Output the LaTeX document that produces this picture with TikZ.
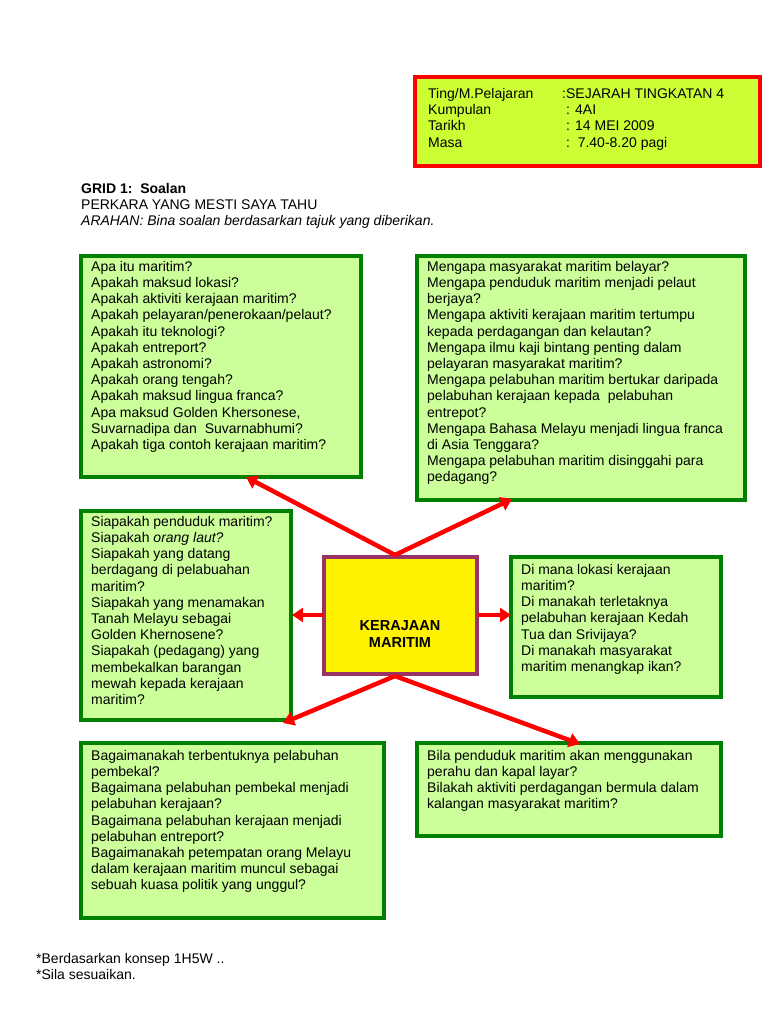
\documentclass[tikz,border=0pt]{standalone}
\usepackage{fontspec}
\setmainfont{Liberation Sans}
\usetikzlibrary{arrows.meta}
\definecolor{gbox}{HTML}{CCFF99}
\definecolor{gline}{HTML}{008000}
\definecolor{hdr}{HTML}{CCFF33}
\definecolor{purp}{HTML}{993366}
\begin{document}
\begin{tikzpicture}[x=1pt,y=-1pt,
  gb/.style={draw=gline,line width=3.5pt,fill=gbox},
  tx/.style={anchor=north west,align=left,inner sep=0pt,font=\fontsize{14}{16.2}\selectfont},
  arr/.style={draw=red,line width=4.5pt,-{Triangle[length=11pt,width=14pt]}}]
\useasboundingbox (0,0) rectangle (768,1024);
\fill[white] (0,0) rectangle (768,1024);
% header
\draw[draw=red,line width=4pt,fill=hdr] (415,77) rectangle (760,166);
\node[tx] (h1) at (428,87) {\begin{tabular}{@{}p{134pt}@{}l@{}}Ting/M.Pelajaran & :SEJARAH TINGKATAN 4\\Kumpulan & \ : 4AI\\Tarikh & \ : 14 MEI 2009\\Masa & \ :\ \ 7.40-8.20 pagi\end{tabular}};
\node[tx] (g) at (81,183) {\textbf{GRID 1:\ \ Soalan}\\PERKARA YANG MESTI SAYA TAHU\\\textit{ARAHAN: Bina soalan berdasarkan tajuk yang diberikan.}};
% boxes
\draw[gb] (81,256) rectangle (361,477);
\node[tx] (t1) at (91,261) {Apa itu maritim?\\Apakah maksud lokasi?\\Apakah aktiviti kerajaan maritim?\\Apakah pelayaran/penerokaan/pelaut?\\Apakah itu teknologi?\\Apakah entreport?\\Apakah astronomi?\\Apakah orang tengah?\\Apakah maksud lingua franca?\\Apa maksud Golden Khersonese,\\Suvarnadipa dan\ \ Suvarnabhumi?\\Apakah tiga contoh kerajaan maritim?};
\draw[gb] (417,256) rectangle (745,500);
\node[tx] (t2) at (427,261) {Mengapa masyarakat maritim belayar?\\Mengapa penduduk maritim menjadi pelaut\\berjaya?\\Mengapa aktiviti kerajaan maritim tertumpu\\kepada perdagangan dan kelautan?\\Mengapa ilmu kaji bintang penting dalam\\pelayaran masyarakat maritim?\\Mengapa pelabuhan maritim bertukar daripada\\pelabuhan kerajaan kepada\ \ pelabuhan\\entrepot?\\Mengapa Bahasa Melayu menjadi lingua franca\\di Asia Tenggara?\\Mengapa pelabuhan maritim disinggahi para\\pedagang?};
\draw[gb] (81,511) rectangle (291,720);
\node[tx] (t3) at (91,516) {Siapakah penduduk maritim?\\Siapakah \textit{orang laut?}\\Siapakah yang datang\\berdagang di pelabuahan\\maritim?\\Siapakah yang menamakan\\Tanah Melayu sebagai\\Golden Khernosene?\\Siapakah (pedagang) yang\\membekalkan barangan\\mewah kepada kerajaan\\maritim?};
\draw[draw=purp,line width=3.5pt,fill=yellow] (324,557) rectangle (477,674);
\node[align=center,font=\fontsize{14.5}{17}\selectfont\bfseries] (c) at (400,634) {KERAJAAN\\MARITIM};
\draw[gb] (511,557) rectangle (721,697);
\node[tx] (t4) at (521,564) {Di mana lokasi kerajaan\\maritim?\\Di manakah terletaknya\\pelabuhan kerajaan Kedah\\Tua dan Srivijaya?\\Di manakah masyarakat\\maritim menangkap ikan?};
\draw[gb] (81,743) rectangle (384,918);
\node[tx] (t5) at (91,750) {Bagaimanakah terbentuknya pelabuhan\\pembekal?\\Bagaimana pelabuhan pembekal menjadi\\pelabuhan kerajaan?\\Bagaimana pelabuhan kerajaan menjadi\\pelabuhan entreport?\\Bagaimanakah petempatan orang Melayu\\dalam kerajaan maritim muncul sebagai\\sebuah kuasa politik yang unggul?};
\draw[gb] (417,743) rectangle (721,836);
\node[tx] (t6) at (427,750) {Bila penduduk maritim akan menggunakan\\perahu dan kapal layar?\\Bilakah aktiviti perdagangan bermula dalam\\kalangan masyarakat maritim?};
% arrows
\coordinate (ct) at (395,555);
\coordinate (cb) at (395,676);
\coordinate (a1) at (246,477);
\coordinate (a2) at (512,499);
\coordinate (a3) at (292,615);
\coordinate (a4) at (511,615);
\coordinate (a5) at (283,723);
\coordinate (a6) at (580,744);
\coordinate (cl) at (323,615);
\coordinate (cr) at (478,615);
\draw[arr] (ct) -- (a1);
\draw[arr] (ct) -- (a2);
\draw[arr] (cl) -- (a3);
\draw[arr] (cr) -- (a4);
\draw[arr] (cb) -- (a5);
\draw[arr] (cb) -- (a6);
\node[tx] (f) at (36,953) {*Berdasarkan konsep 1H5W ..\\*Sila sesuaikan.};
\end{tikzpicture}
\end{document}
